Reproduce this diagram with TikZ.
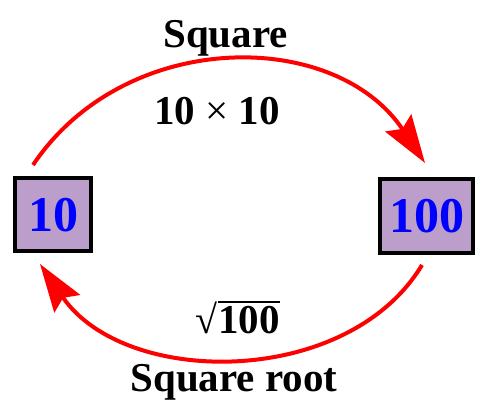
\documentclass[tikz,border=0pt]{standalone}
\usepackage{fontspec}
\setmainfont{Liberation Serif}
\usetikzlibrary{arrows.meta,calc}
\definecolor{boxfill}{RGB}{188,158,202}
\begin{document}
\begin{tikzpicture}[x=1pt,y=-1pt,
  numbox/.style={draw=black,line width=4pt,fill=boxfill,inner sep=0pt,text=blue,font=\fontsize{50}{60}\selectfont\bfseries},
  arcline/.style={draw=red,line width=4pt,-{Stealth[length=48pt,width=31pt,inset=7pt]}},
  lbl/.style={font=\fontsize{41}{49}\selectfont\bfseries,inner sep=0pt,anchor=base}]
\useasboundingbox (0,0) rectangle (491,411);
\node[numbox,minimum width=76pt,minimum height=73pt] (a) at (53.3,214.7) {10};
\node[numbox,minimum width=93pt,minimum height=74pt] (b) at (426.7,215.8) {100};
\coordinate (s1) at ($(a.north)+(-20.3,-11.2)$);
\coordinate (e1) at ($(b.north)+(-1.7,-13.8)$);
\coordinate (s2) at ($(b.south)+(-4.7,10.2)$);
\coordinate (e2) at ($(a.south)+(-13.3,10.8)$);
\draw[arcline] (s1) .. controls (125,28) and (335,28) .. (e1);
\draw[arcline] (s2) .. controls (348,388) and (125,388) .. (e2);
\node[lbl] (sqlbl) at (225.5,48) {Square};
\node[lbl] (mul) at (217,125) {10\hspace{10pt}{\mdseries ×}\hspace{10pt}10};
\node[lbl] (r100) at (249,334) {100};
\node[anchor=base east,font=\fontsize{40}{48}\selectfont,inner sep=0pt] (rad) at (r100.base west) {√};
\draw[line width=1.7pt] (rad.north east) -- (r100.north east |- rad.north east);
\node[lbl] (rootlbl) at (234,392) {Square root};
\end{tikzpicture}
\end{document}
